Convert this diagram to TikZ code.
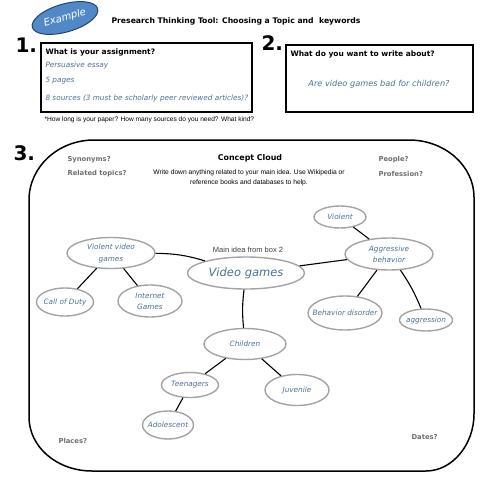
\documentclass[tikz,border=0pt]{standalone}
\usepackage{fontspec}
\setmainfont{Liberation Sans}
\newfontfamily\heavy{DejaVu Sans}
\usetikzlibrary{shapes.geometric}
\definecolor{handblue}{HTML}{4A6F96}
\definecolor{cloudgray}{HTML}{A3A3A3}
\definecolor{tagblue}{HTML}{5189C8}
\definecolor{tagedge}{HTML}{22456E}
\definecolor{askgray}{HTML}{6E6E6E}
\tikzset{
  hand/.style={text=handblue, font=\heavy\itshape\fontsize{7.3}{8}\selectfont},
  bubble/.style={ellipse, draw=cloudgray, line width=1.4pt, inner sep=-20pt, hand, align=center},
  boxhead/.style={font=\heavy\bfseries\fontsize{7.5}{8}\selectfont, anchor=west},
  ask/.style={text=askgray, font=\heavy\bfseries\fontsize{6.8}{7}\selectfont, anchor=west},
  bignum/.style={font=\heavy\bfseries\fontsize{20}{20}\selectfont, anchor=west},
  link/.style={line width=1.1pt}
}
\begin{document}
\begin{tikzpicture}[x=1pt, y=-1pt]
\useasboundingbox (0,0) rectangle (495,495);
% header
\node[ellipse, draw=tagedge, fill=tagblue, line width=1pt, rotate=16,
      minimum width=68, minimum height=28, inner sep=0pt, text=white,
      font=\heavy\itshape\fontsize{10}{10}\selectfont] (tag) at (65,18) {Example};
\node[font=\heavy\bfseries\fontsize{7.7}{8}\selectfont, anchor=west] (title) at (108,21)
     {Presearch Thinking Tool: Choosing a Topic and \ keywords};
% box 1
\node[bignum] (one) at (12,45) {1.};
\draw[line width=1.2pt] (41,43) rectangle (252,112);
\node[boxhead] (q1) at (42,52) {What is your assignment?};
\foreach[count=\j] \ans/\ypos in {Persuasive essay/65, 5 pages/81,
    8 sources (3 must be scholarly peer reviewed articles)?/98} {
  \node[hand, anchor=west] (a-\j) at (42,\ypos) {\ans};
}
\node[font=\fontsize{6.6}{7}\selectfont, anchor=west] (hint) at (41,120)
     {*How long is your paper? How many sources do you need? What kind?};
% box 2
\node[bignum] (two) at (258,43) {2.};
\draw[line width=1.2pt] (286,45) rectangle (473,112);
\node[boxhead] (q2) at (287,54) {What do you want to write about?};
\node[hand, font=\heavy\itshape\fontsize{8.2}{9}\selectfont] (topic) at (379,84)
     {Are video games bad for children?};
% box 3
\node[bignum] (three) at (10,153) {3.};
\draw[line width=1.5pt] (94,140) -- (409,140)
  .. controls (445,140) and (474,166) .. (474,197) -- (474,414)
  .. controls (474,445) and (452,471) .. (426,471) -- (92,471)
  .. controls (57,471) and (29,447) .. (29,417) -- (29,200)
  .. controls (29,167) and (58,140) .. (94,140) -- cycle;
\node[font=\heavy\bfseries\fontsize{7.9}{8}\selectfont] (cloud) at (250,158) {Concept Cloud};
\node[font=\fontsize{6.7}{10}\selectfont, align=center] (help) at (249,178)
     {Write down anything related to your main idea. Use Wikipedia or\\
      reference books and databases to help.};
\node[ask] (syn) at (64,160) {Synonyms?};
\node[ask] (rel) at (64,174) {Related topics?};
\node[ask] (ppl) at (375,160) {People?};
\node[ask] (job) at (375,174) {Profession?};
\node[ask] (plc) at (55,441) {Places?};
\node[ask] (dat) at (408,437) {Dates?};
% concept bubbles
\node[font=\fontsize{7.5}{8}\selectfont, text=darkgray] (mainlbl) at (248,250) {Main idea from box 2};
\node[bubble, minimum width=117, minimum height=32,
      font=\heavy\itshape\fontsize{11.5}{12}\selectfont] (vg) at (246,273) {Video games};
\node[bubble, minimum width=88, minimum height=31] (vvg) at (111,253) {Violent video\\[4pt]games};
\node[bubble, minimum width=57, minimum height=28] (cod) at (65,302) {Call of Duty};
\node[bubble, minimum width=64, minimum height=32] (net) at (150,301) {Internet\\[3pt]Games};
\node[bubble, minimum width=52, minimum height=22] (vio) at (340,217) {Violent};
\node[bubble, minimum width=88, minimum height=32] (agg) at (389,254) {Aggressive\\[3pt]behavior};
\node[bubble, minimum width=74, minimum height=34] (bd) at (345,313) {Behavior disorder};
\node[bubble, minimum width=53, minimum height=22] (ag) at (426,320) {aggression};
\node[bubble, minimum width=82, minimum height=31] (kid) at (245,344) {Children};
\node[bubble, minimum width=57, minimum height=25] (teen) at (190,385) {Teenagers};
\node[bubble, minimum width=64, minimum height=31] (juv) at (297,390) {Juvenile};
\node[bubble, minimum width=51, minimum height=28] (ado) at (168,425) {Adolescent};
% links
\foreach \a/\b in {vvg/cod, vvg/net, vio/agg, vg/agg, agg/bd, kid/teen, kid/juv, teen/ado} {
  \draw[link] (\a) -- (\b);
}
\draw[link] (vvg) to[bend left=8] (vg);
\draw[link] (vg) to[bend right=6] (kid);
\draw[link] (agg) to[bend left=6] (ag);
\end{tikzpicture}
\end{document}
